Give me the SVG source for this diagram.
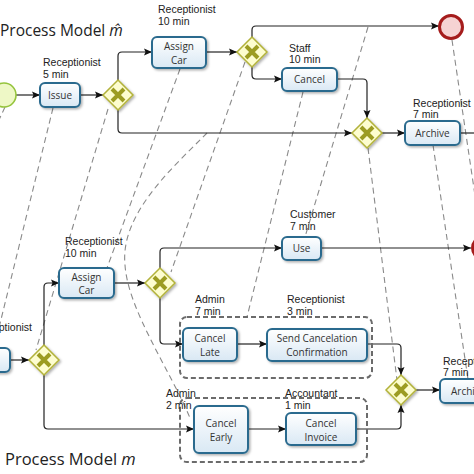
<svg xmlns="http://www.w3.org/2000/svg" width="474" height="474" viewBox="0 0 474 474">
<style>
.flow{fill:none;stroke:#222;stroke-width:1.2}
.map{fill:none;stroke:#8a8a8a;stroke-width:1.1;stroke-dasharray:6 4}
.task{fill:url(#tg);stroke:#2b6b8e;stroke-width:2;filter:url(#sh)}
.tt{font-family:"Open Sans","Noto Sans",sans-serif;font-size:10px;fill:#333;text-anchor:middle}
.lb{font-family:"Liberation Sans",Arial,sans-serif;font-size:10.5px;fill:#222}
.gw{fill:#fdfdcf;stroke:#b2b23a;stroke-width:1.5;filter:url(#sh)}
.gx{stroke:#9c9c22;stroke-width:4;stroke-linecap:butt}
.grp{fill:none;stroke:#6b6b6b;stroke-width:2;stroke-dasharray:5 3}
.title{font-family:"Open Sans","Noto Sans",sans-serif;fill:#222}
</style>
<defs>
<linearGradient id="tg" x1="0" y1="0" x2="0" y2="1"><stop offset="0" stop-color="#ffffff"/><stop offset="1" stop-color="#d9e8f4"/></linearGradient>
<filter id="sh" x="-20%" y="-20%" width="150%" height="150%"><feDropShadow dx="1.5" dy="1.5" stdDeviation="1" flood-color="#000" flood-opacity="0.3"/></filter>
<marker id="ah" markerUnits="userSpaceOnUse" markerWidth="9" markerHeight="8" refX="8" refY="4" orient="auto"><path d="M0,0.5 L8,4 L0,7.5 L1.5,4 Z" fill="#111"/></marker>
<path id="dia" d="M0,-15 L15,0 L0,15 L-15,0 Z"/>
</defs>
<rect width="474" height="474" fill="#fff"/>

<g id="titles">
<text class="title" x="0" y="36" font-size="15.5">Process Model <tspan font-style="italic">m̂</tspan></text>
<text class="title" x="5" y="465" font-size="16.5">Process Model <tspan font-style="italic">m</tspan></text>
</g>

<g id="connectors">
<!-- mapping lines -->
<path class="map" d="M5,107 L-8,135"/>
<path class="map" d="M53,108 L-6,348"/>
<path class="map" d="M108,109 L36,350"/>
<path class="map" d="M180,69 L107,268"/>
<path class="map" d="M245,62 L171,272"/>
<path class="map" d="M303,92 L247,317"/>
<path class="map" d="M368,27 L305,237"/>
<path class="map" d="M452,40 L481,236"/>
<path class="map" d="M368,148 L397,380"/>
<path class="map" d="M433,145 L468,379"/>
<path class="map" d="M207,133 C170,170 120,215 125,265 C128,310 170,370 190,418"/>
<!-- top flows -->
<path class="flow" marker-end="url(#ah)" d="M16,95 H40"/>
<path class="flow" marker-end="url(#ah)" d="M80,95 H103"/>
<path class="flow" marker-end="url(#ah)" d="M118,80 V56 Q118,52 122,52 H152"/>
<path class="flow" marker-end="url(#ah)" d="M206,52 H237"/>
<path class="flow" marker-end="url(#ah)" d="M252,37 V30 Q252,26 256,26 H439"/>
<path class="flow" marker-end="url(#ah)" d="M252,67 V75 Q252,79 256,79 H282"/>
<path class="flow" marker-end="url(#ah)" d="M337,79 H363 Q367,79 367,83 V118"/>
<path class="flow" marker-end="url(#ah)" d="M118,110 V129 Q118,133 122,133 H352"/>
<path class="flow" marker-end="url(#ah)" d="M382,133 H405"/>
<path class="flow" d="M460,133 H474"/>
<!-- bottom flows -->
<path class="flow" marker-end="url(#ah)" d="M10,360 H29"/>
<path class="flow" marker-end="url(#ah)" d="M44,345 V287 Q44,283 48,283 H59"/>
<path class="flow" marker-end="url(#ah)" d="M114,283 H145"/>
<path class="flow" marker-end="url(#ah)" d="M160,268 V252 Q160,248 164,248 H282"/>
<path class="flow" marker-end="url(#ah)" d="M321,248 H471"/>
<path class="flow" marker-end="url(#ah)" d="M160,298 V340 Q160,344 164,344 H183"/>
<path class="flow" marker-end="url(#ah)" d="M237,344 H267"/>
<path class="flow" marker-end="url(#ah)" d="M367,344 H397 Q401,344 401,348 V375"/>
<path class="flow" marker-end="url(#ah)" d="M44,375 V425 Q44,429 48,429 H194"/>
<path class="flow" marker-end="url(#ah)" d="M248,429 H286"/>
<path class="flow" marker-end="url(#ah)" d="M356,429 H397 Q401,429 401,425 V405"/>
<path class="flow" marker-end="url(#ah)" d="M416,390 H440"/>
</g>

<!-- top model nodes -->
<g id="start-top"><circle cx="4" cy="95" r="12" fill="#eef8c6" stroke="#95c43c" stroke-width="1.6"/></g>
<g id="issue">
<text class="lb" x="43" y="66">Receptionist</text><text class="lb" x="43" y="78">5 min</text>
<rect class="task" x="40" y="83" width="40" height="24" rx="5"/>
<text class="tt" x="60" y="99">Issue</text></g>
<g id="gw1"><use href="#dia" class="gw" x="118" y="95"/><path class="gx" d="M112,89 L124,101 M124,89 L112,101"/></g>
<g id="assign-top">
<text class="lb" x="158" y="13">Receptionist</text><text class="lb" x="158" y="25">10 min</text>
<rect class="task" x="152" y="37" width="54" height="31" rx="5"/>
<text class="tt" x="179" y="49.5">Assign</text><text class="tt" x="179" y="63.5">Car</text></g>
<g id="gw2"><use href="#dia" class="gw" x="252" y="52"/><path class="gx" d="M246,46 L258,58 M258,46 L246,58"/></g>
<g id="end-top"><circle cx="451" cy="27" r="11.5" fill="#f6d3d3" stroke="#a51c1c" stroke-width="3"/></g>
<g id="cancel-top">
<text class="lb" x="289" y="52">Staff</text><text class="lb" x="289" y="63">10 min</text>
<rect class="task" x="282" y="68" width="55" height="23" rx="5"/>
<text class="tt" x="309.5" y="83">Cancel</text></g>
<g id="gw3"><use href="#dia" class="gw" x="367" y="133"/><path class="gx" d="M361,127 L373,139 M373,127 L361,139"/></g>
<g id="archive-top">
<text class="lb" x="413" y="107">Receptionist</text><text class="lb" x="413" y="118">7 min</text>
<rect class="task" x="405" y="121" width="55" height="24" rx="5"/>
<text class="tt" x="432.5" y="136.5">Archive</text></g>

<!-- bottom model nodes -->
<g id="issue-bottom">
<text class="lb" x="32" y="331" text-anchor="end">Receptionist</text>
<rect class="task" x="-40" y="348" width="50" height="24" rx="5"/></g>
<g id="gw4"><use href="#dia" class="gw" x="44" y="360"/><path class="gx" d="M38,354 L50,366 M50,354 L38,366"/></g>
<g id="assign-bottom">
<text class="lb" x="65" y="245">Receptionist</text><text class="lb" x="65" y="257">10 min</text>
<rect class="task" x="59" y="268" width="55" height="30" rx="5"/>
<text class="tt" x="86.5" y="280.5">Assign</text><text class="tt" x="86.5" y="294">Car</text></g>
<g id="gw5"><use href="#dia" class="gw" x="160" y="283"/><path class="gx" d="M154,277 L166,289 M166,277 L154,289"/></g>
<g id="use">
<text class="lb" x="290" y="218">Customer</text><text class="lb" x="290" y="230">7 min</text>
<rect class="task" x="282" y="237" width="39" height="23" rx="5"/>
<text class="tt" x="301.5" y="252">Use</text></g>
<g id="end-bottom"><circle cx="484" cy="248" r="11.5" fill="#f6d3d3" stroke="#a51c1c" stroke-width="3"/></g>
<g id="group-late"><rect class="grp" x="180" y="317" width="192" height="61" rx="7"/></g>
<g id="cancel-late">
<text class="lb" x="195" y="303">Admin</text><text class="lb" x="195" y="315">7 min</text>
<rect class="task" x="183" y="328" width="54" height="33" rx="5"/>
<text class="tt" x="210" y="341.5">Cancel</text><text class="tt" x="210" y="355.5">Late</text></g>
<g id="send-confirmation">
<text class="lb" x="287" y="303">Receptionist</text><text class="lb" x="287" y="315">3 min</text>
<rect class="task" x="267" y="329" width="100" height="32" rx="5"/>
<text class="tt" x="317" y="341.5">Send Cancelation</text><text class="tt" x="317" y="355.5">Confirmation</text></g>
<g id="group-early"><rect class="grp" x="180" y="398" width="187" height="64" rx="7"/></g>
<g id="cancel-early">
<text class="lb" x="166" y="397">Admin</text><text class="lb" x="166" y="409">2 min</text>
<rect class="task" x="194" y="406" width="54" height="47" rx="5"/>
<text class="tt" x="221" y="426.5">Cancel</text><text class="tt" x="221" y="440.5">Early</text></g>
<g id="cancel-invoice">
<text class="lb" x="285" y="397">Accountant</text><text class="lb" x="285" y="409">1 min</text>
<rect class="task" x="286" y="413" width="70" height="32" rx="5"/>
<text class="tt" x="321" y="426.5">Cancel</text><text class="tt" x="321" y="440.5">Invoice</text></g>
<g id="gw6"><use href="#dia" class="gw" x="401" y="390"/><path class="gx" d="M395,384 L407,396 M407,384 L395,396"/></g>
<g id="archive-bottom">
<text class="lb" x="443" y="365">Receptionist</text><text class="lb" x="443" y="376">7 min</text>
<rect class="task" x="440" y="379" width="55" height="24" rx="5"/>
<text class="tt" x="451" y="394.5" style="text-anchor:start">Archive</text></g>
</svg>
